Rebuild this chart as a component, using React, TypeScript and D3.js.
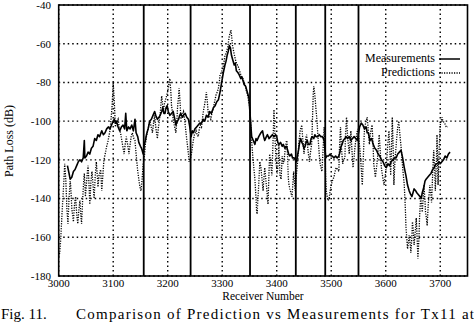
import React from "react";
import * as d3 from "d3";

const W = 474;
const H = 322;

const xTicks = [3000, 3100, 3200, 3300, 3400, 3500, 3600, 3700];
const yTicks = [-180, -160, -140, -120, -100, -80, -60, -40];
const routeBreaks = [3156, 3242, 3351, 3435, 3489, 3550];

const measReceivers = [
  3016, 3019, 3021, 3024, 3027, 3030, 3033, 3036, 3039, 3042, 3045, 3047, 3048, 3051, 3054, 3057, 3060, 3063, 3066, 3069,
  3072, 3075, 3079, 3082, 3085, 3088, 3091, 3094, 3097, 3100, 3102, 3104, 3106, 3109, 3112, 3115, 3118, 3121, 3123, 3125,
  3128, 3131, 3134, 3137, 3140, 3142, 3145, 3147, 3150, 3152, 3155,
  3157, 3159, 3161, 3164, 3167, 3170, 3173, 3176, 3178, 3181, 3184, 3186, 3189, 3191, 3193, 3195, 3197, 3199, 3201, 3204,
  3207, 3210, 3213, 3215, 3218, 3220, 3222, 3224, 3227, 3229, 3232, 3235, 3238, 3240,
  3243, 3245, 3247, 3250, 3253, 3256, 3259, 3262, 3265, 3268, 3271, 3274, 3277, 3280, 3284, 3287, 3290, 3293, 3296, 3299,
  3302, 3305, 3307, 3309, 3311, 3313, 3315, 3317, 3319, 3322, 3324, 3326, 3329, 3331, 3334, 3336, 3338, 3340, 3343, 3345,
  3347, 3349,
  3354, 3357, 3360, 3362, 3364, 3367, 3369, 3371, 3374, 3376, 3378, 3381, 3383, 3386, 3389, 3392, 3395, 3398, 3400, 3402,
  3404, 3407, 3410, 3412, 3415, 3418, 3420, 3422, 3424, 3427, 3429, 3432, 3434,
  3436, 3438, 3440, 3442, 3444, 3446, 3448, 3450, 3452, 3454, 3456, 3458, 3461, 3463, 3465, 3468, 3470, 3472, 3475, 3478,
  3481, 3484, 3487,
  3490, 3492, 3495, 3498, 3500, 3502, 3505, 3508, 3511, 3514, 3516, 3518, 3520, 3522, 3525, 3527, 3530, 3533, 3536, 3539,
  3542, 3545, 3548,
  3552, 3555, 3558, 3561, 3564, 3566, 3568, 3571, 3574, 3577, 3580, 3583, 3586, 3589, 3592, 3595, 3598, 3601, 3604, 3607,
  3610, 3613, 3616, 3619, 3622, 3625, 3628, 3631, 3634, 3637, 3640, 3643, 3646, 3648, 3650, 3652, 3655, 3657, 3660, 3663,
  3665, 3667, 3670, 3672, 3674, 3677, 3680, 3683, 3686, 3689, 3692, 3695, 3698, 3700, 3703, 3706, 3709, 3712, 3715, 3718,
];
const measLoss = [
  -123, -127, -130, -129, -126, -125, -123, -121, -120, -121, -119, -110, -119, -118, -116, -117, -114, -113, -109, -110,
  -107, -108, -105, -107, -106, -104, -103, -104, -102, -100, -99, -101, -100, -103, -105, -103, -102, -104, -96, -105,
  -103, -104, -102, -105, -99, -106, -108, -111, -113, -114, -117,
  -112, -110, -107, -104, -100, -99, -97, -95, -97, -99, -98, -97, -95, -93, -96, -96, -93, -92, -95, -97,
  -96, -95, -99, -102, -100, -99, -97, -96, -98, -97, -96, -98, -99, -102,
  -108, -105, -106, -104, -103, -102, -101, -101, -99, -100, -97, -98, -95, -96, -93, -92, -90, -89, -85, -80,
  -75, -71, -69, -66, -64, -61, -62, -66, -68, -71, -70, -74, -75, -76, -78, -77, -79, -81, -82, -84,
  -86, -88,
  -108, -110, -112, -109, -110, -108, -107, -106, -105, -108, -110, -108, -107, -109, -108, -107, -108, -107, -108, -111,
  -112, -111, -113, -112, -114, -113, -115, -117, -118, -117, -119, -119, -120,
  -121, -118, -115, -111, -109, -111, -112, -114, -113, -111, -110, -112, -112, -109, -108, -109, -107, -108, -108, -107,
  -108, -108, -110,
  -119, -118, -118, -117, -118, -118, -119, -118, -119, -118, -116, -113, -112, -110, -109, -108, -109, -108, -110, -109,
  -108, -109, -110,
  -103, -101, -102, -104, -103, -106, -106, -110, -109, -112, -114, -115, -117, -118, -120, -121, -123, -124, -122, -123,
  -121, -120, -119, -119, -117, -116, -115, -119, -124, -128, -133, -136, -138, -139, -137, -135, -136, -137, -138, -139,
  -140, -137, -134, -131, -130, -129, -128, -127, -125, -124, -122, -122, -121, -122, -121, -120, -118, -119, -117, -116,
];

const predReceivers = [
  3000, 3002, 3004, 3006, 3008, 3010, 3011, 3013, 3015, 3017, 3019, 3021, 3022, 3024, 3026, 3027, 3029, 3031, 3033, 3035,
  3037, 3039, 3041, 3042, 3044, 3046, 3047, 3049, 3051, 3053, 3054, 3056, 3057, 3059, 3061, 3063, 3065, 3067, 3069, 3071,
  3072, 3074, 3077, 3079, 3081, 3083, 3086, 3088, 3090, 3092, 3094, 3096, 3098, 3099, 3100, 3102, 3104, 3106, 3109, 3111,
  3114, 3117, 3120, 3122, 3124, 3127, 3129, 3131, 3133, 3135, 3138, 3140, 3142, 3145, 3147, 3149, 3151, 3153, 3155,
  3157, 3159, 3161, 3163, 3165, 3167, 3169, 3172, 3174, 3176, 3178, 3181, 3183, 3186, 3188, 3189, 3191, 3192, 3194, 3197,
  3199, 3201, 3203, 3204, 3206, 3207, 3209, 3210, 3212, 3215, 3217, 3218, 3220, 3221, 3223, 3224, 3226, 3229, 3231, 3232,
  3234, 3236, 3238, 3239,
  3242, 3244, 3246, 3247, 3249, 3252, 3254, 3256, 3258, 3260, 3262, 3264, 3266, 3268, 3270, 3271, 3273, 3274, 3276, 3279,
  3281, 3284, 3286, 3289, 3291, 3293, 3295, 3296, 3298, 3301, 3303, 3305, 3307, 3310, 3312, 3313, 3315, 3316, 3318, 3319,
  3321, 3324, 3326, 3328, 3331, 3333, 3335, 3338, 3340, 3342, 3344, 3346, 3348, 3350,
  3352, 3354, 3356, 3358, 3360, 3362, 3363, 3364, 3366, 3367, 3369, 3371, 3373, 3375, 3376, 3378, 3380, 3382, 3384, 3386,
  3387, 3389, 3391, 3393, 3395, 3397, 3399, 3401, 3403, 3404, 3406, 3408, 3410, 3412, 3414, 3416, 3418, 3419, 3421, 3422,
  3424, 3426, 3428, 3430, 3431, 3433, 3434,
  3436, 3438, 3440, 3441, 3443, 3445, 3446, 3448, 3450, 3452, 3454, 3455, 3457, 3459, 3460, 3462, 3464, 3465, 3466, 3467,
  3468, 3469, 3471, 3472, 3474, 3475, 3477, 3479, 3481, 3483, 3485, 3487, 3488,
  3490, 3491, 3492, 3494, 3496, 3498, 3500, 3503, 3505, 3507, 3509, 3512, 3514, 3515, 3517, 3519, 3521, 3523, 3525, 3526,
  3528, 3530, 3533, 3535, 3536, 3538, 3540, 3542, 3543, 3545, 3547, 3549,
  3551, 3553, 3555, 3557, 3559, 3561, 3563, 3566, 3568, 3570, 3572, 3575, 3577, 3578, 3581, 3583, 3585, 3587, 3588, 3590,
  3592, 3595, 3597, 3600, 3602, 3604, 3606, 3608, 3609, 3611, 3612, 3614, 3615, 3617, 3620, 3622, 3624, 3626, 3629, 3631,
  3634, 3636, 3637, 3639, 3640, 3642, 3643, 3645, 3646, 3648, 3649, 3651, 3652, 3654, 3656, 3658, 3659, 3661, 3662, 3664,
  3666, 3667, 3669, 3670, 3672, 3673, 3675, 3676, 3678, 3681, 3683, 3684, 3686, 3688, 3690, 3691, 3693, 3694, 3695, 3696,
  3698, 3700, 3703, 3705, 3708, 3711, 3714,
];
const predLoss = [
  -170, -168, -160, -148, -138, -128, -122, -130, -145, -153, -140, -131, -133, -145, -150, -152, -143, -139, -148, -153,
  -146, -141, -150, -153, -140, -130, -127, -139, -132, -125, -123, -135, -143, -132, -126, -133, -140, -128, -121, -129,
  -134, -128, -125, -136, -128, -120, -116, -113, -111, -108, -105, -99, -92, -86, -80, -90, -103, -101, -99, -103,
  -107, -112, -117, -112, -108, -113, -117, -112, -108, -106, -109, -110, -117, -126, -130, -134, -136, -130, -122,
  -119, -112, -108, -105, -103, -100, -102, -106, -101, -97, -103, -109, -103, -97, -90, -87, -93, -95, -91, -88,
  -86, -83, -79, -78, -86, -92, -96, -99, -102, -106, -99, -93, -87, -83, -92, -99, -97, -95, -99, -102,
  -107, -112, -117, -121,
  -119, -116, -112, -110, -107, -105, -107, -108, -104, -102, -103, -98, -94, -91, -87, -85, -91, -95, -97, -99,
  -96, -93, -90, -86, -85, -83, -79, -76, -75, -73, -70, -66, -65, -62, -58, -56, -54, -53, -58, -61,
  -64, -68, -70, -71, -73, -75, -77, -78, -80, -81, -84, -86, -89, -92,
  -100, -110, -118, -124, -130, -140, -146, -148, -138, -133, -121, -124, -130, -136, -131, -124, -130, -136, -143, -125,
  -117, -122, -128, -112, -94, -110, -122, -127, -120, -112, -128, -130, -118, -122, -119, -113, -110, -111, -128, -132,
  -135, -137, -139, -131, -126, -133, -136,
  -128, -122, -114, -110, -105, -103, -102, -110, -117, -112, -108, -107, -114, -119, -121, -116, -112, -105, -95, -86,
  -82, -84, -90, -94, -100, -105, -113, -121, -124, -126, -115, -103, -110,
  -131, -136, -138, -141, -140, -136, -133, -130, -129, -126, -124, -125, -126, -115, -103, -115, -122, -120, -119, -108,
  -98, -108, -117, -110, -105, -115, -124, -119, -115, -110, -106, -104,
  -110, -116, -124, -133, -118, -104, -101, -98, -105, -112, -106, -102, -114, -122, -129, -124, -119, -111, -107, -116,
  -124, -130, -133, -126, -119, -111, -105, -118, -128, -110, -98, -118, -133, -120, -109, -103, -100, -107, -116, -124,
  -133, -145, -154, -162, -166, -162, -159, -164, -168, -160, -152, -158, -164, -158, -150, -163, -171, -160, -150, -140,
  -144, -147, -138, -133, -141, -147, -151, -154, -143, -133, -138, -142, -128, -115, -126, -136, -120, -107, -118, -133,
  -115, -102, -98, -100, -101, -103, -103,
];

const x = d3.scaleLinear().domain([3000, 3750]).range([58.7, 467.5]);
const y = d3.scaleLinear().domain([-180, -40]).range([276, 5]);

const measData = measReceivers.map((r, i) => [r, measLoss[i]] as [number, number]);
const predData = predReceivers.map((r, i) => [r, predLoss[i]] as [number, number]);

const lineGen = d3
  .line<[number, number]>()
  .x((d) => x(d[0]))
  .y((d) => y(d[1]));

const serif = "'Liberation Serif', 'DejaVu Serif', serif";

export default function App() {
  const [x0, x1] = x.range();
  const [yb, yt] = y.range();
  return (
    <div style={{ position: "fixed", left: 0, top: 0, width: W, height: H, background: "#fff" }}>
      <svg width={W} height={H} viewBox={`0 0 ${W} ${H}`} style={{ display: "block" }}>
        <rect x={0} y={0} width={W} height={H} fill="#fff" />
        {yTicks.map((t) => (
          <line key={"gy" + t} x1={x0} x2={x1} y1={y(t)} y2={y(t)} stroke="#000" strokeWidth={1.4} strokeDasharray="1.5 3" />
        ))}
        {xTicks.map((t) => (
          <line key={"gx" + t} x1={x(t)} x2={x(t)} y1={yb} y2={yt} stroke="#000" strokeWidth={1.4} strokeDasharray="1.5 3" />
        ))}
        {routeBreaks.map((b) => (
          <line key={"rb" + b} x1={x(b)} x2={x(b)} y1={yb} y2={yt} stroke="#000" strokeWidth={1.8} />
        ))}
        <path d={lineGen(predData) || ""} fill="none" stroke="#000" strokeWidth={1.3} strokeDasharray="1.2 1.3" />
        <path d={lineGen(measData) || ""} fill="none" stroke="#000" strokeWidth={1.6} strokeLinejoin="round" />
        <rect x={x0} y={yt} width={x1 - x0} height={yb - yt} fill="none" stroke="#000" strokeWidth={1.6} />
        {yTicks.map((t) => (
          <text key={"ty" + t} x={51} y={y(t)} dy="0.35em" textAnchor="end" fontFamily={serif} fontSize={11} fill="#000">
            {t}
          </text>
        ))}
        {xTicks.map((t) => (
          <text key={"tx" + t} x={x(t)} y={287} textAnchor="middle" fontFamily={serif} fontSize={11} fill="#000">
            {t}
          </text>
        ))}
        <text x={263} y={300} textAnchor="middle" fontFamily={serif} fontSize={11.5} fill="#000">
          Receiver Number
        </text>
        <text transform="translate(13,141) rotate(-90)" textAnchor="middle" fontFamily={serif} fontSize={12} fill="#000">
          Path Loss (dB)
        </text>
        <text x={435} y={62} textAnchor="end" fontFamily={serif} fontSize={12} fill="#000">
          Measurements
        </text>
        <line x1={439} x2={460} y1={59} y2={59} stroke="#000" strokeWidth={1.5} />
        <text x={435} y={76} textAnchor="end" fontFamily={serif} fontSize={12} fill="#000">
          Predictions
        </text>
        <line x1={439} x2={460} y1={73} y2={73} stroke="#000" strokeWidth={1.3} strokeDasharray="1.2 1.3" />
        <text x={1} y={319} fontFamily={serif} fontSize={15} fill="#000">
          Fig. 11.
        </text>
        <text x={76} y={319} fontFamily={serif} fontSize={15} fill="#000" textLength={398} lengthAdjust="spacing">
          Comparison of Prediction vs Measurements for Tx11 at
        </text>
      </svg>
    </div>
  );
}
